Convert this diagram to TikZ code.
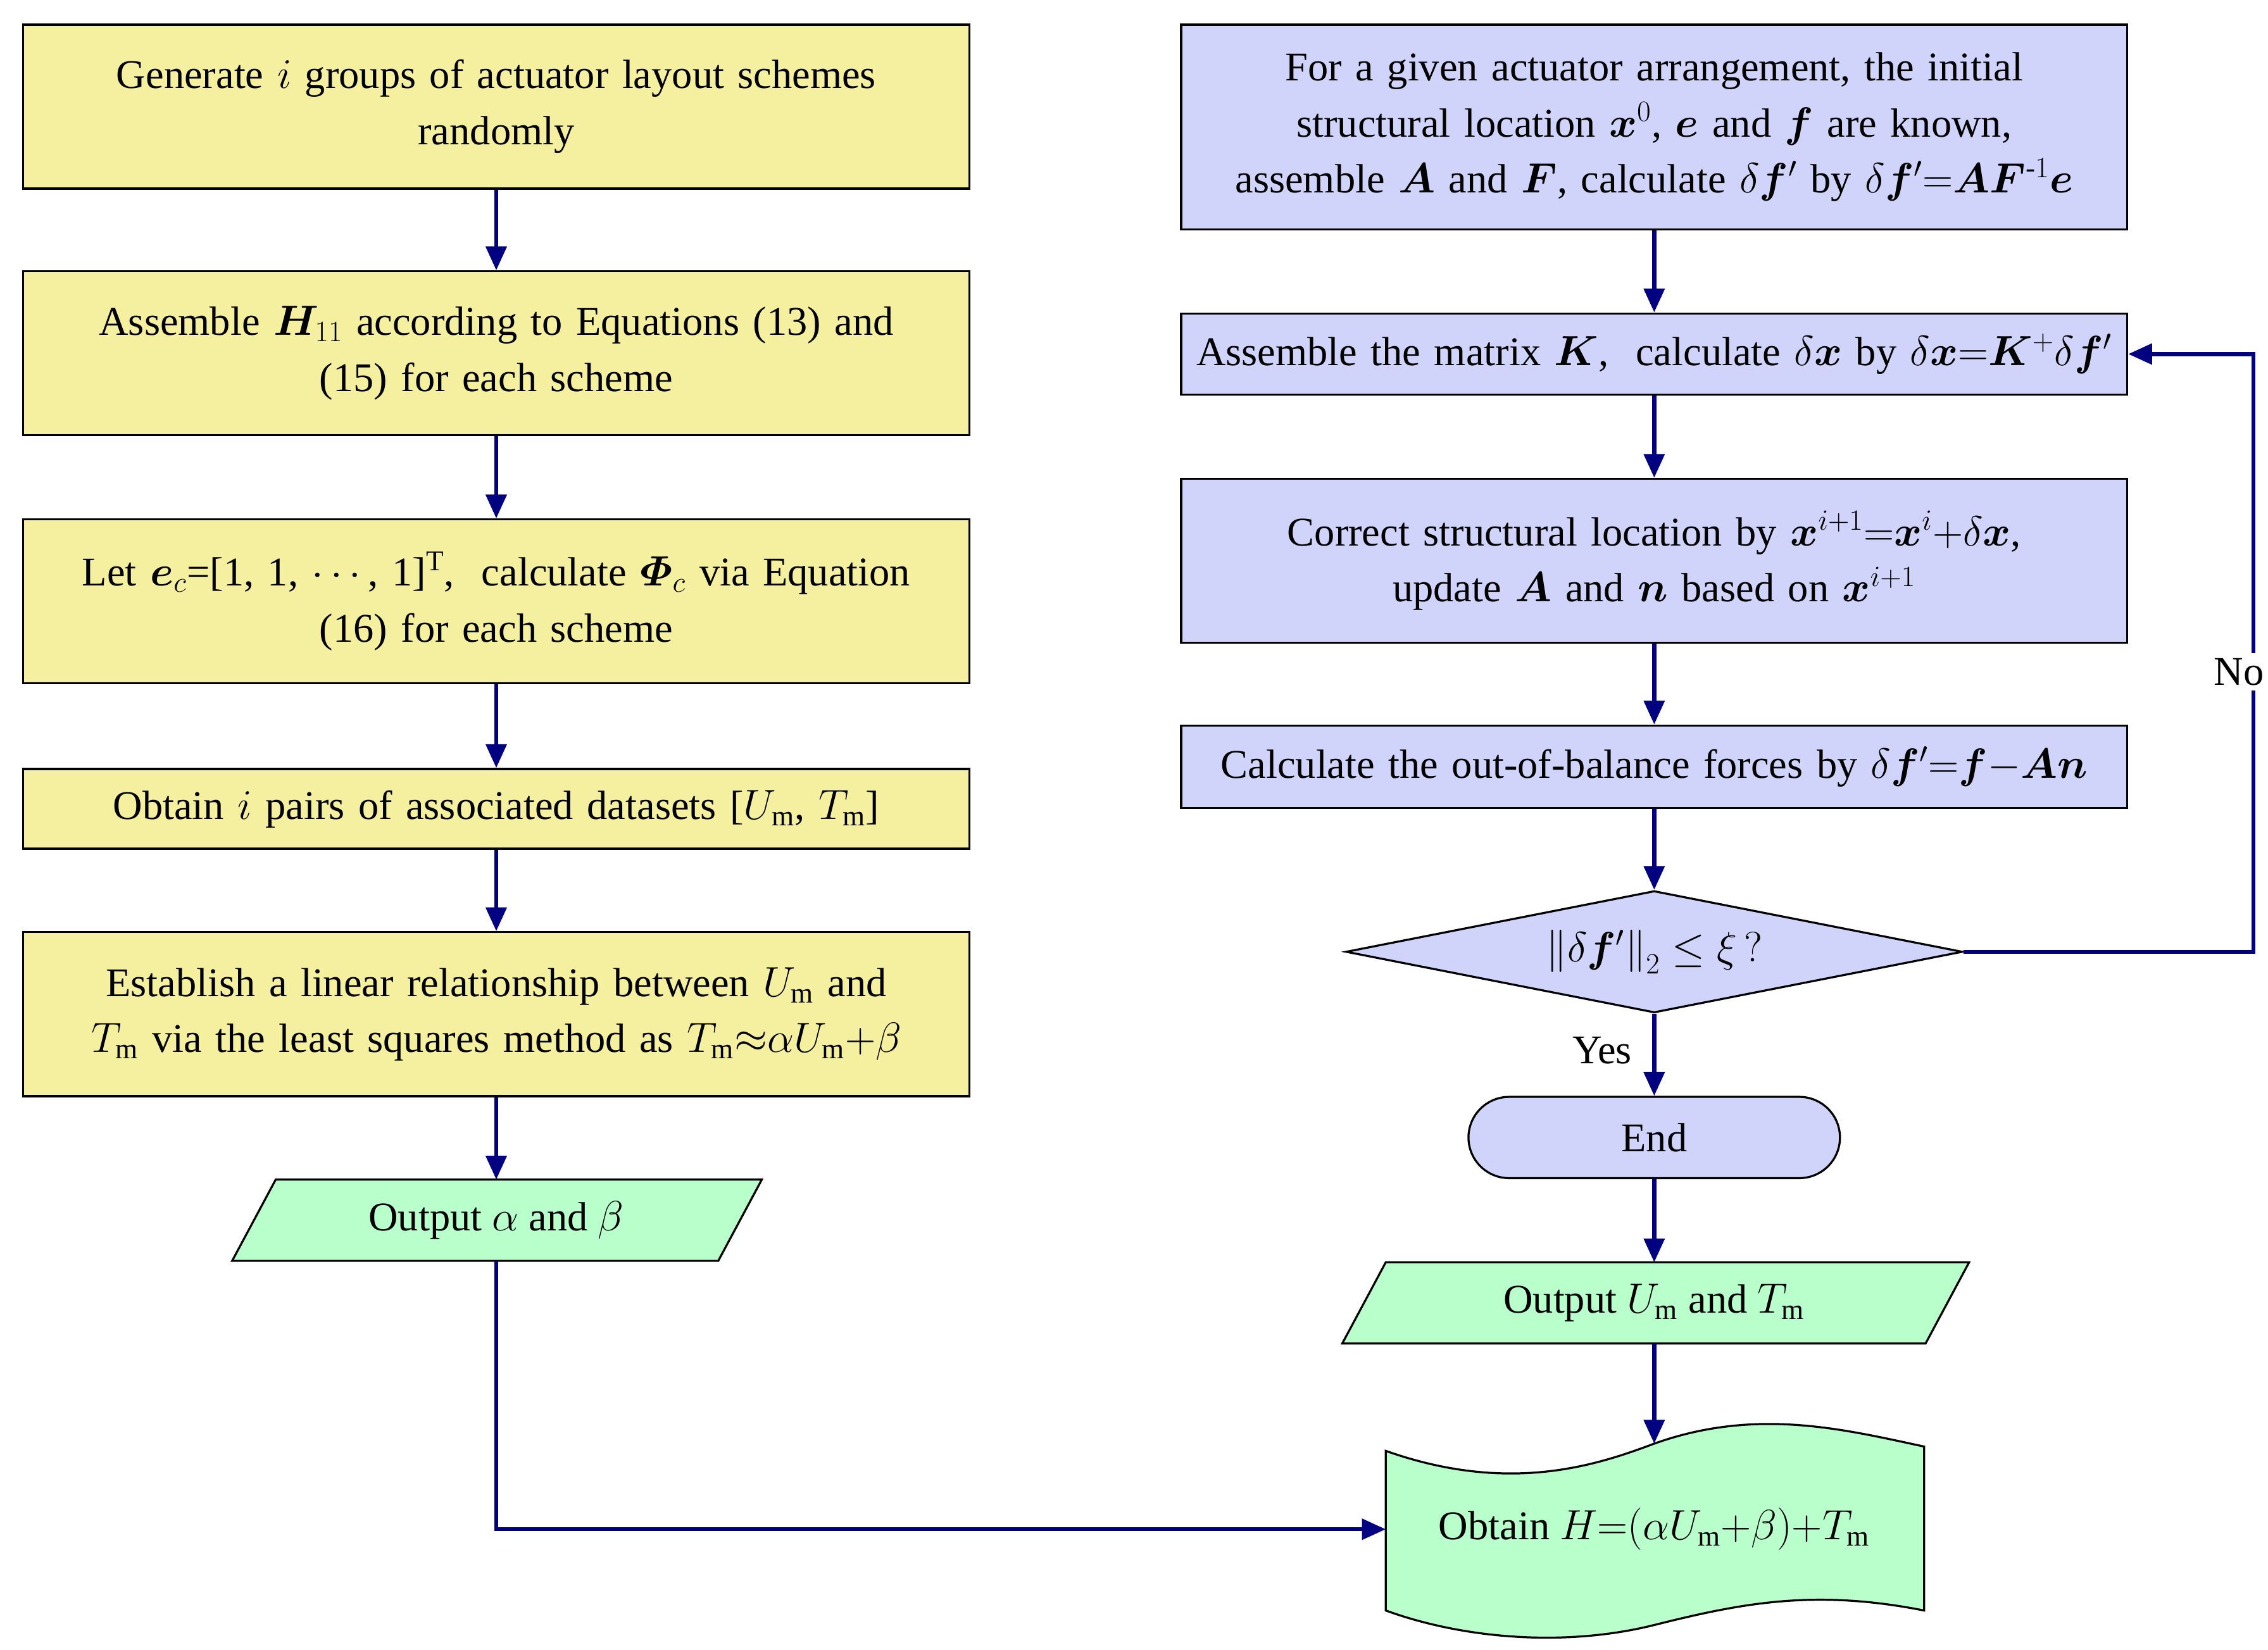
\documentclass[tikz,border=0pt]{standalone}
\usepackage{amsmath,bm}
\usepackage{fontspec}
\setmainfont{Liberation Serif}
\usetikzlibrary{arrows.meta,shapes.geometric}
\definecolor{yel}{RGB}{245,240,160}
\definecolor{blu}{RGB}{208,212,250}
\definecolor{grn}{RGB}{184,255,204}
\definecolor{nav}{RGB}{0,0,128}
\hyphenpenalty=10000
\begin{document}
\begin{tikzpicture}[x=0.03cm,y=-0.03cm,
  font=\fontsize{24}{33}\selectfont,
  box/.style={draw,line width=1.2pt,align=center,inner sep=0pt,minimum width=652*0.03cm},
  yb/.style={box,fill=yel,text width=650*0.03cm},
  bb/.style={box,fill=blu,text width=650*0.03cm},
  arr/.style={draw=nav,line width=2.4pt,-{Triangle[length=14pt,width=12pt]}},
  lbl/.style={inner sep=0pt}]
\useasboundingbox (0,0) rectangle (1563,1137);
% left column
\node[yb,minimum height=113*0.03cm] (b1) at (342,73.5) {Generate $i$ groups of actuator layout schemes\\ randomly};
\node[yb,minimum height=113*0.03cm] (b2) at (342,243.5) {Assemble $\bm H_{11}$ according to Equations (13) and\\ (15) for each scheme};
\node[yb,minimum height=113*0.03cm] (b3) at (342,414.5) {Let $\bm e_c$=[1, 1, $\cdots$, 1]$^{\mathrm T}$,\ \ calculate $\bm{\varPhi}_c$ via Equation\\ (16) for each scheme};
\node[yb,minimum height=55*0.03cm] (b4) at (342,557.5) {Obtain $i$ pairs of associated datasets [$U_{\mathrm m}$, $T_{\mathrm m}$]};
\node[yb,minimum height=113*0.03cm] (b5) at (342,699) {Establish a linear relationship between $U_{\mathrm m}$ and\\ $T_{\mathrm m}$ via the least squares method as $T_{\mathrm m}{\approx}\alpha U_{\mathrm m}{+}\beta$};
\draw[line width=1.2pt,fill=grn] (190,813) -- (525,813) -- (495,869) -- (160,869) -- cycle;
\node[lbl] (ol) at (342,841) {Output $\alpha$ and $\beta$};
\coordinate (olt) at (342,813);
\coordinate (olb) at (342,869);
% right column
\node[bb,minimum height=141*0.03cm] (r1) at (1140,87.5) {For a given actuator arrangement, the initial\\ structural location $\bm x^0$, $\bm e$ and $\bm f$ are known,\\ assemble $\bm A$ and $\bm F$, calculate $\delta\bm f'$ by $\delta\bm f'{=}\bm{AF}^{\text{-}1}\bm e$};
\node[bb,minimum height=56*0.03cm] (r2) at (1140,244) {Assemble the matrix $\bm K$,\ \ calculate $\delta\bm x$ by $\delta\bm x{=}\bm K^{+}\delta\bm f'$};
\node[bb,minimum height=113*0.03cm] (r3) at (1140,386.5) {Correct structural location by $\bm x^{i+1}{=}\bm x^{i}{+}\delta\bm x$,\\ update $\bm A$ and $\bm n$ based on $\bm x^{i+1}$};
\node[bb,minimum height=57*0.03cm] (r4) at (1140,528.5) {Calculate the out-of-balance forces by $\delta\bm f'{=}\bm f{-}\bm{An}$};
\node[diamond,draw,line width=1.2pt,fill=blu,aspect=5.06,minimum width=425*0.03cm,minimum height=84*0.03cm,inner sep=0pt] (d) at (1140,656) {$\left\|\delta\bm f'\right\|_2\le\xi\,?$};
\node[draw,line width=1.2pt,fill=blu,rounded corners=28*0.03cm,minimum width=256*0.03cm,minimum height=56*0.03cm] (e) at (1140,784) {End};
\draw[line width=1.2pt,fill=grn] (955,870) -- (1357,870) -- (1327,926) -- (925,926) -- cycle;
\node[lbl] (or) at (1140,898) {Output $U_{\mathrm m}$ and $T_{\mathrm m}$};
\coordinate (ort) at (1140,870);
\coordinate (orb) at (1140,926);
\draw[line width=1.2pt,fill=grn] (955,1000) .. controls (1040,1030) and (1100,1010) .. (1140,995)
  .. controls (1210,970) and (1270,985) .. (1326,997) -- (1326,1110)
  .. controls (1250,1095) and (1200,1105) .. (1140,1120)
  .. controls (1080,1135) and (1010,1130) .. (955,1110) -- cycle;
\node[lbl] (h) at (1140,1054) {Obtain $H{=}(\alpha U_{\mathrm m}{+}\beta){+}T_{\mathrm m}$};
\coordinate (ht) at (1140,995);
\coordinate (hl) at (955,1054);
% connectors
\draw[arr] (b1) -- (b2);
\draw[arr] (b2) -- (b3);
\draw[arr] (b3) -- (b4);
\draw[arr] (b4) -- (b5);
\draw[arr] (b5) -- (olt);
\draw[arr] (olb) |- (hl);
\draw[arr] (r1) -- (r2);
\draw[arr] (r2) -- (r3);
\draw[arr] (r3) -- (r4);
\draw[arr] (r4) -- (d);
\draw[arr] (d) -- node[lbl,pos=0.45,left=12pt] {Yes} (e);
\draw[arr] (e) -- (ort);
\draw[arr] (orb) -- (ht);
\coordinate (c1) at (1553,656);
\draw[arr] (d.east) -- (c1) -- (c1 |- r2.east) -- (r2.east);
\node[fill=white,inner sep=3pt] (no) at (1543,463) {No};
\end{tikzpicture}
\end{document}
